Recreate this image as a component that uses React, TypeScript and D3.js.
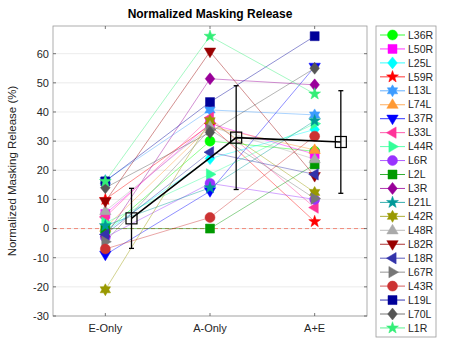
import React from "react";
import * as d3 from "d3";

const categories = ["E-Only", "A-Only", "A+E"];
const subjects = ["L36R", "L50R", "L25L", "L59R", "L13L", "L74L", "L37R", "L33L", "L44R", "L6R", "L2L", "L3R", "L21L", "L42R", "L48R", "L82R", "L18R", "L67R", "L43R", "L19L", "L70L", "L1R"];
const eOnlyValues = [-1, 5, -1, 10, 16.5, 0.3, -9, 4, 2, -3, 0, -2.7, 1, -21, 6, 9.3, -2, -4.5, -7, 16.2, 14, 16.2];
const aOnlyValues = [30, 36, 24, 35.5, 40.7, 35, 12.8, 38, 18.6, 15.5, 0, 51.4, 14, 37, 35, 60.7, 26.2, 34, 3.8, 43.4, 33, 66];
const aPlusEValues = [26.5, 25.5, 34, 2.4, 39, 27, 55.5, 7.2, 36, 10, 22, 49.3, 37, 12.4, 23.8, 18, 18.6, 10.3, 31.7, 66, 55, 46.2];
const colors = ["#00ff00", "#ff00ff", "#00ffff", "#ff0000", "#3d9cff", "#ff9933", "#0000ff", "#ff3399", "#33ff99", "#9933ff", "#009900", "#990099", "#009999", "#999900", "#aaaaaa", "#990000", "#3333aa", "#777777", "#cc3333", "#000099", "#555555", "#33ee77"];
const shapes = ["circle", "square", "diamond", "star", "hexagram", "triUp", "triDown", "triLeft", "triRight", "circle", "square", "diamond", "star", "hexagram", "triUp", "triDown", "triLeft", "triRight", "circle", "square", "diamond", "star"];
const meanValues = [3.5, 31.2, 29.7];
const errValues = [10.3, 17.8, 17.6];
const yTicks = [-30, -20, -10, 0, 10, 20, 30, 40, 50, 60];
const yLimits = [-30, 69.5];

function poly(pts: [number, number][]) {
  return "M" + pts.map((p) => p[0].toFixed(2) + "," + p[1].toFixed(2)).join("L") + "Z";
}

function markerPath(shape: string, r: number): string {
  switch (shape) {
    case "circle":
      return `M${r},0A${r},${r},0,1,1,${-r},0A${r},${r},0,1,1,${r},0Z`;
    case "square": {
      const s = r * 0.9;
      return poly([[-s, -s], [s, -s], [s, s], [-s, s]]);
    }
    case "diamond": {
      const s = r * 1.2;
      return poly([[0, -s], [s * 0.8, 0], [0, s], [-s * 0.8, 0]]);
    }
    case "triUp": {
      const s = r * 1.2;
      return poly([[0, -s], [s * 0.95, s * 0.6], [-s * 0.95, s * 0.6]]);
    }
    case "triDown": {
      const s = r * 1.2;
      return poly([[0, s], [s * 0.95, -s * 0.6], [-s * 0.95, -s * 0.6]]);
    }
    case "triLeft": {
      const s = r * 1.2;
      return poly([[-s, 0], [s * 0.6, -s * 0.95], [s * 0.6, s * 0.95]]);
    }
    case "triRight": {
      const s = r * 1.2;
      return poly([[s, 0], [-s * 0.6, -s * 0.95], [-s * 0.6, s * 0.95]]);
    }
    case "star": {
      const pts: [number, number][] = [];
      const R = r * 1.25;
      for (let i = 0; i < 10; i++) {
        const a = -Math.PI / 2 + (i * Math.PI) / 5;
        const rr = i % 2 === 0 ? R : R * 0.4;
        pts.push([rr * Math.cos(a), rr * Math.sin(a)]);
      }
      return poly(pts);
    }
    case "hexagram": {
      const pts: [number, number][] = [];
      const R = r * 1.2;
      for (let i = 0; i < 12; i++) {
        const a = -Math.PI / 2 + (i * Math.PI) / 6;
        const rr = i % 2 === 0 ? R : R * 0.58;
        pts.push([rr * Math.cos(a), rr * Math.sin(a)]);
      }
      return poly(pts);
    }
  }
  return "";
}

export default function App() {
  const W = 474, H = 355;
  const left = 53, right = 367, top = 26, bottom = 316;
  const x = d3.scaleLinear().domain([0.5, 3.5]).range([left, right]);
  const y = d3.scaleLinear().domain(yLimits).range([bottom, top]);
  const font = "Arial, 'Liberation Sans', sans-serif";
  const series = subjects.map((name, i) => ({
    name,
    color: colors[i],
    shape: shapes[i],
    vals: [eOnlyValues[i], aOnlyValues[i], aPlusEValues[i]],
  }));
  const line = d3.line<number>().x((_, j) => x(j + 1)).y((v) => y(v));
  const meanLine = d3.line<number>().x((_, j) => x(j + 1.25)).y((v) => y(v));
  const mr = 5;
  const legX = 376, legY = 26, legW = 60, legH = 311;
  const legStep = 13.95;

  return (
    <svg width={W} height={H} style={{ position: "absolute", left: 0, top: 0, background: "#fff" }} fontFamily={font}>
      <rect x={0} y={0} width={W} height={H} fill="#fff" />
      {yTicks.map((t) => (
        <line key={"g" + t} x1={left} x2={right} y1={y(t)} y2={y(t)} stroke="#e6e6e6" strokeWidth={0.8} />
      ))}
      <line x1={left} x2={right} y1={y(0)} y2={y(0)} stroke="#f08a7a" strokeWidth={1} strokeDasharray="4,3" />
      <rect x={left} y={top} width={right - left} height={bottom - top} fill="none" stroke="#9a9a9a" strokeWidth={0.8} />
      {yTicks.map((t) => (
        <g key={"t" + t}>
          <line x1={left} x2={left + 3} y1={y(t)} y2={y(t)} stroke="#555" strokeWidth={0.8} />
          <line x1={right} x2={right - 3} y1={y(t)} y2={y(t)} stroke="#555" strokeWidth={0.8} />
          <text x={left - 4} y={y(t)} dy="0.35em" textAnchor="end" fontSize={11} fill="#262626">{t}</text>
        </g>
      ))}
      {categories.map((c, j) => (
        <g key={c}>
          <line x1={x(j + 1)} x2={x(j + 1)} y1={bottom} y2={bottom - 3} stroke="#555" strokeWidth={0.8} />
          <line x1={x(j + 1)} x2={x(j + 1)} y1={top} y2={top + 3} stroke="#555" strokeWidth={0.8} />
          <text x={x(j + 1)} y={bottom + 16} textAnchor="middle" fontSize={11} fill="#262626">{c}</text>
        </g>
      ))}
      {series.map((s) => (
        <path key={"l" + s.name} d={line(s.vals) || ""} fill="none" stroke={s.color} strokeWidth={0.8} strokeOpacity={0.55} />
      ))}
      {series.map((s) => (
        <g key={"m" + s.name}>
          {s.vals.map((v, j) => (
            <path key={j} d={markerPath(s.shape, mr)} transform={`translate(${x(j + 1)},${y(v)})`} fill={s.color} stroke={s.color} strokeWidth={0.5} />
          ))}
        </g>
      ))}
      <path d={meanLine(meanValues) || ""} fill="none" stroke="#000" strokeWidth={1.5} />
      {meanValues.map((m, j) => {
        const cx = x(j + 1.25);
        return (
          <g key={"mean" + j}>
            <line x1={cx} x2={cx} y1={y(m - errValues[j])} y2={y(m + errValues[j])} stroke="#000" strokeWidth={1.3} />
            <line x1={cx - 2.5} x2={cx + 2.5} y1={y(m - errValues[j])} y2={y(m - errValues[j])} stroke="#000" strokeWidth={1.3} />
            <line x1={cx - 2.5} x2={cx + 2.5} y1={y(m + errValues[j])} y2={y(m + errValues[j])} stroke="#000" strokeWidth={1.3} />
            <rect x={cx - 5.5} y={y(m) - 5.5} width={11} height={11} fill="none" stroke="#000" strokeWidth={1.2} />
          </g>
        );
      })}
      <text x={(left + right) / 2} y={18} textAnchor="middle" fontSize={12} fontWeight="bold" fill="#000">Normalized Masking Release</text>
      <text transform={`translate(16,${(top + bottom) / 2}) rotate(-90)`} textAnchor="middle" fontSize={11.5} fill="#262626">Normalized Masking Release (%)</text>
      <rect x={legX} y={legY} width={legW} height={legH} fill="#fff" stroke="#9a9a9a" strokeWidth={0.8} />
      {series.map((s, i) => {
        const ly = 35 + i * legStep;
        return (
          <g key={"leg" + s.name}>
            <line x1={380} x2={405} y1={ly} y2={ly} stroke={s.color} strokeWidth={0.8} />
            <path d={markerPath(s.shape, mr)} transform={`translate(392.5,${ly})`} fill={s.color} stroke={s.color} strokeWidth={0.5} />
            <text x={408} y={ly} dy="0.35em" fontSize={10.5} fill="#262626">{s.name}</text>
          </g>
        );
      })}
    </svg>
  );
}
